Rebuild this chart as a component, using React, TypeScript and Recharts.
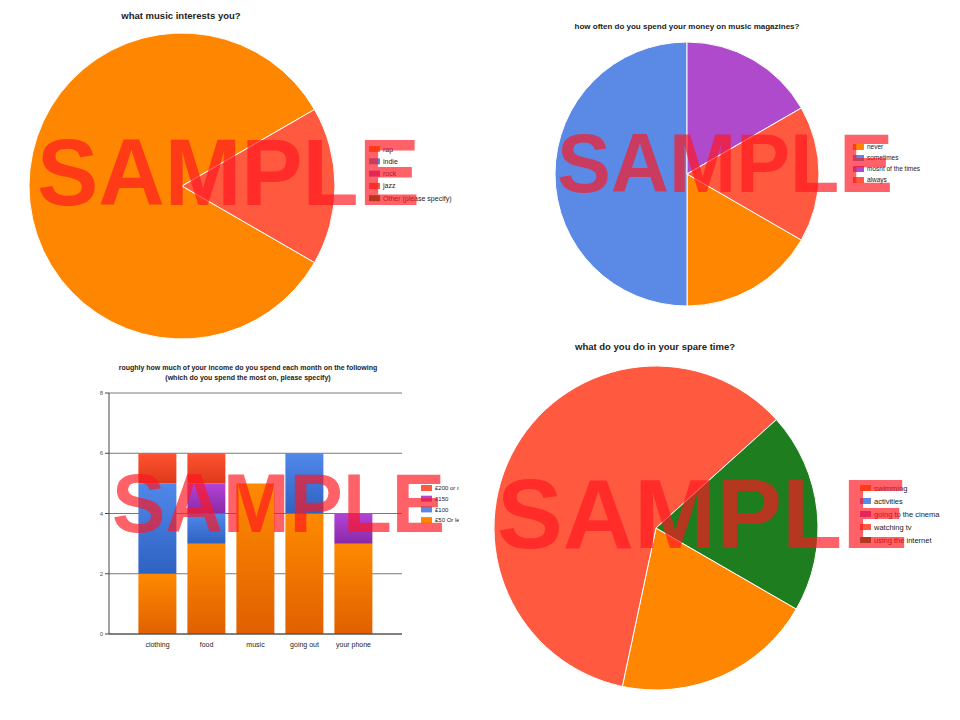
import React from 'react';
import { PieChart, Pie, Cell, BarChart, Bar, XAxis, YAxis, CartesianGrid } from 'recharts';

// ---- data ----
const musicCategories = ['rap', 'indie', 'rock', 'jazz', 'Other (please specify)'];
const musicCounts = [5, 0, 0, 1, 0];

const magazineCategories = ['never', 'sometimes', 'mosnt of the times', 'always'];
const magazineCounts = [1, 3, 1, 1];

const spareCategories = ['swimming', 'activities', 'going to the cinema', 'watching tv', 'using the internet'];
const spareCounts = [1, 0, 0, 3, 1];

const spendCategories = ['clothing', 'food', 'music', 'going out', 'your phone'];
const spend50 = [2, 3, 5, 4, 3];
const spend100 = [3, 1, 0, 2, 0];
const spend150 = [0, 1, 0, 0, 1];
const spend200 = [1, 1, 0, 0, 0];
const spendSeries = ['£50 Or less', '£100', '£150', '£200 or more'];
const spendTicks = [0, 2, 4, 6, 8];

// ---- styles ----
const ORANGE = '#ff8600';
const BLUE = '#5a8ae6';
const PURPLE = '#ae4acb';
const RED = '#ff5a40';
const GREEN = '#1d7d1f';
const palette = [ORANGE, BLUE, PURPLE, RED, GREEN];
const FONT = '"Liberation Sans", Arial, sans-serif';

const spendKeys = ['s50', 's100', 's150', 's200'];
const spendGrad = [
  ['#ff8a00', '#e06000'],
  ['#5088ea', '#2e62c2'],
  ['#b244d6', '#8a2aa8'],
  ['#ff5232', '#dd3a1a'],
];

const spendData = spendCategories.map((c, i) => ({
  name: c,
  s50: spend50[i],
  s100: spend100[i],
  s150: spend150[i],
  s200: spend200[i],
}));

const toPie = (cats: string[], vals: number[]) =>
  cats.map((c, i) => ({ name: c, value: vals[i], color: palette[i] })).filter((d) => d.value > 0);

function SimplePie({ cats, vals, cx, cy, r }: { cats: string[]; vals: number[]; cx: number; cy: number; r: number }) {
  const data = toPie(cats, vals);
  return (
    <PieChart width={480} height={360} margin={{ top: 0, right: 0, bottom: 0, left: 0 }}>
      <Pie
        data={data}
        dataKey="value"
        nameKey="name"
        cx={cx}
        cy={cy}
        outerRadius={r}
        innerRadius={0}
        startAngle={-30}
        endAngle={-390}
        stroke="#ffffff"
        strokeWidth={1}
        isAnimationActive={false}
        label={false}
        labelLine={false}
      >
        {data.map((d, i) => (
          <Cell key={i} fill={d.color} />
        ))}
      </Pie>
    </PieChart>
  );
}

function LegendBlock({
  items,
  colors,
  x,
  y,
  gap,
  size,
  clip,
}: {
  items: string[];
  colors: string[];
  x: number;
  y: number;
  gap: number;
  size: number;
  clip?: string;
}) {
  return (
    <g clipPath={clip}>
      {items.map((t, i) => (
        <g key={t}>
          <rect x={x} y={y + i * gap - 3} width={11} height={6} fill={colors[i]} />
          <text x={x + 14} y={y + i * gap + size * 0.36} fontSize={size} fill="#222" fontFamily={FONT}>
            {t}
          </text>
        </g>
      ))}
    </g>
  );
}

export default function App() {
  return (
    <div style={{ position: 'absolute', left: 0, top: 0, width: 960, height: 720, background: '#fff', overflow: 'hidden' }}>
      <div style={{ position: 'absolute', left: 0, top: 0 }}>
        <SimplePie cats={musicCategories} vals={musicCounts} cx={182} cy={186} r={153} />
      </div>
      <div style={{ position: 'absolute', left: 480, top: 0 }}>
        <SimplePie cats={magazineCategories} vals={magazineCounts} cx={207} cy={174} r={132} />
      </div>
      <div style={{ position: 'absolute', left: 480, top: 360 }}>
        <SimplePie cats={spareCategories} vals={spareCounts} cx={176} cy={168} r={162} />
      </div>
      <div style={{ position: 'absolute', left: 0, top: 360 }}>
        <BarChart
          width={480}
          height={360}
          data={spendData}
          margin={{ top: 33, right: 78, left: 79, bottom: 66 }}
          barCategoryGap="11%"
        >
          <defs>
            {spendGrad.map((g, i) => (
              <linearGradient key={i} id={`grad${i}`} x1="0" y1="0" x2="0" y2="1">
                <stop offset="0%" stopColor={g[0]} />
                <stop offset="100%" stopColor={g[1]} />
              </linearGradient>
            ))}
          </defs>
          <CartesianGrid vertical={false} stroke="#7a7a7a" strokeWidth={1} />
          <XAxis
            dataKey="name"
            padding={{ left: 24, right: 24 }}
            tickLine={false}
            axisLine={{ stroke: '#444' }}
            tick={{ fontSize: 7, fill: '#222', fontFamily: FONT }}
            height={20}
            interval={0}
          />
          <YAxis
            domain={[0, 8]}
            ticks={spendTicks}
            width={30}
            tickSize={4}
            tickLine={{ stroke: '#444' }}
            axisLine={{ stroke: '#444' }}
            tick={{ fontSize: 6, fill: '#555', fontFamily: FONT }}
          />
          {spendKeys.map((k, i) => (
            <Bar key={k} dataKey={k} stackId="a" fill={`url(#grad${i})`} isAnimationActive={false} />
          ))}
        </BarChart>
      </div>

      <svg width={960} height={720} style={{ position: 'absolute', left: 0, top: 0, pointerEvents: 'none' }}>
        <defs>
          <clipPath id="barLegendClip">
            <rect x={400} y={470} width={59} height={70} />
          </clipPath>
        </defs>
        <g fontFamily={FONT} fontWeight="bold" fill="#222" textAnchor="middle">
          <text x={181} y={19} fontSize={9.5}>what music interests you?</text>
          <text x={687} y={29} fontSize={8}>how often do you spend your money on music magazines?</text>
          <text x={248} y={370} fontSize={7}>roughly how much of your income do you spend each month on the following</text>
          <text x={248} y={380} fontSize={7}>(which do you spend the most on, please specify)</text>
          <text x={655} y={350} fontSize={9.5}>what do you do in your spare time?</text>
        </g>

        <LegendBlock items={musicCategories} colors={palette} x={369} y={149} gap={12.3} size={7} />
        <LegendBlock items={magazineCategories} colors={palette} x={853} y={147} gap={11} size={6.5} />
        <LegendBlock items={spareCategories} colors={palette} x={860} y={488} gap={13} size={7.5} />
        <LegendBlock
          items={[...spendSeries].reverse()}
          colors={[RED, PURPLE, BLUE, ORANGE]}
          x={421}
          y={488}
          gap={10.7}
          size={6}
          clip="url(#barLegendClip)"
        />

        <g fontFamily={FONT} fontWeight="bold" fill="rgba(255,22,32,0.68)">
          <text x={37} y={205} fontSize={94} textLength={383} lengthAdjust="spacingAndGlyphs">SAMPLE</text>
          <text x={557} y={192} fontSize={84} textLength={336} lengthAdjust="spacingAndGlyphs">SAMPLE</text>
          <text x={112} y={532} fontSize={84} textLength={333} lengthAdjust="spacingAndGlyphs">SAMPLE</text>
          <text x={497} y={548} fontSize={99} textLength={411} lengthAdjust="spacingAndGlyphs">SAMPLE</text>
        </g>
      </svg>
    </div>
  );
}
